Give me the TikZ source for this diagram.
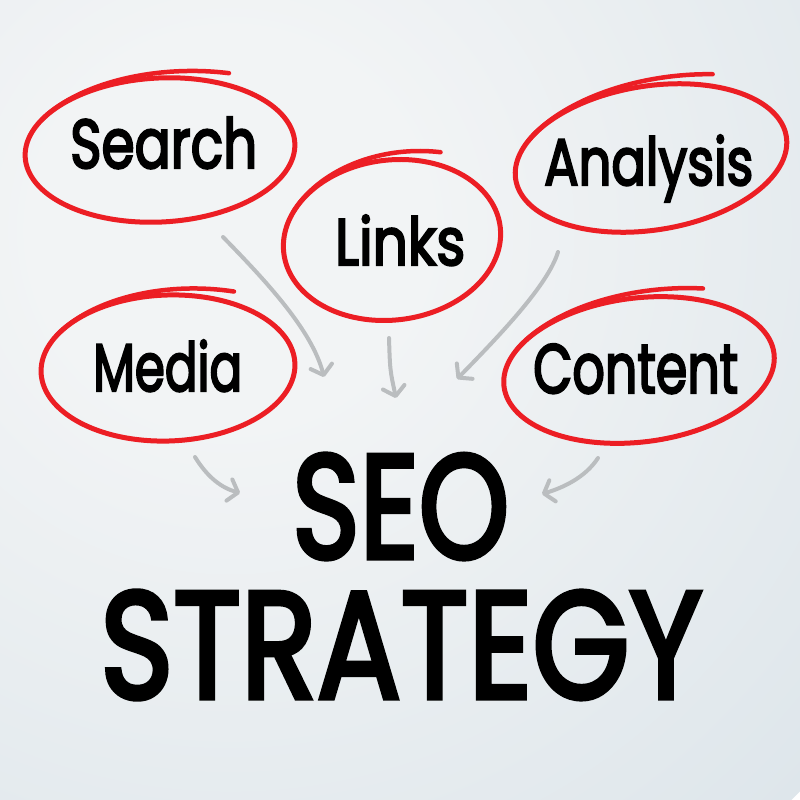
\documentclass[tikz,border=0pt]{standalone}
\usepackage{fontspec}
\setmainfont{Poppins}
\newfontfamily\lblfont{Poppins}[FakeBold=3.5]
\usetikzlibrary{arrows.meta}
\definecolor{mred}{RGB}{236,30,36}
\definecolor{agray}{RGB}{186,189,191}
\definecolor{bglight}{RGB}{242,244,245}
\definecolor{bgmid}{RGB}{222,230,235}
\definecolor{bgdark}{RGB}{166,188,203}
\pgfdeclareradialshading{bgshade}{\pgfpoint{0bp}{0bp}}{color(0bp)=(bglight); color(6bp)=(bglight); color(25bp)=(bgmid); color(50bp)=(bgdark)}
\newcommand\sketchell[6]{%
  \coordinate (#1) at (#2,#3);
  \begin{scope}[shift={(#2,#3)}, rotate=#6]
    \draw[ellstroke] plot[domain=0:360, samples=100, smooth] ({#4*cos(\x)},{-#5*sin(\x)});
    \draw[tailstroke] plot[domain=62:150, samples=30, smooth]
      ({#4*(1+0.15*((150-\x)/88)*((150-\x)/88))*cos(\x)},{-#5*(1+0.15*((150-\x)/88)*((150-\x)/88))*sin(\x)});
  \end{scope}}
\tikzset{
  ellstroke/.style={draw=mred, line width=5pt, line cap=round, line join=round},
  tailstroke/.style={draw=mred, line width=4.5pt, line cap=round},
  lbl/.style={anchor=base west, inner sep=0pt, font=\lblfont},
  arr/.style={draw=agray, line width=4pt, line cap=round, -{Straight Barb[length=9pt, width=22pt, round]}}
}
\begin{document}
\begin{tikzpicture}[x=1pt,y=-1pt]
\useasboundingbox (0,0) rectangle (800,800);
\begin{scope}
  \clip (0,0) rectangle (800,800);
  \shade[shading=bgshade] (230,230) circle (800);
\end{scope}

% ellipses
\sketchell{searchell}{160}{150}{135}{72}{3}
\sketchell{linksell}{392}{240}{109}{80}{7}
\sketchell{analysisell}{651}{158}{137}{72}{9}
\sketchell{mediaell}{168}{368}{127}{73}{2}
\sketchell{contentell}{639}{370}{136}{72}{7}

% labels
\node[lbl] (search) at (70,168) {\resizebox{187pt}{51pt}{Search}};
\node[lbl] (links) at (335,265) {\resizebox{130pt}{50pt}{Links}};
\node[lbl] (analysis) at (544,185) {\resizebox{209pt}{50pt}{Analysis}};
\node[lbl] (media) at (93,391) {\resizebox{149pt}{51pt}{Media}};
\node[lbl] (content) at (533,393) {\resizebox{205pt}{49pt}{Content}};
\node[lbl] (seo) at (292,558) {\resizebox{217pt}{104pt}{SEO}};
\node[lbl] (strategy) at (100,698) {\resizebox{602pt}{107pt}{STRATEGY}};

% arrows
\coordinate (a1s) at (223,237); \coordinate (a1e) at (324,377);
\coordinate (a2s) at (389,338); \coordinate (a2e) at (396,398);
\coordinate (a3s) at (558,252); \coordinate (a3e) at (457,379);
\coordinate (a4s) at (195,457); \coordinate (a4e) at (240,493);
\coordinate (a5s) at (598,458); \coordinate (a5e) at (542,494);
\draw[arr] (a1s) .. controls (265,280) and (312,330) .. (a1e);
\draw[arr] (a2s) .. controls (390,370) .. (a2e);
\draw[arr] (a3s) .. controls (548,285) and (500,335) .. (a3e);
\draw[arr] (a4s) .. controls (208,478) and (222,488) .. (a4e);
\draw[arr] (a5s) .. controls (585,478) and (562,488) .. (a5e);
\end{tikzpicture}
\end{document}
